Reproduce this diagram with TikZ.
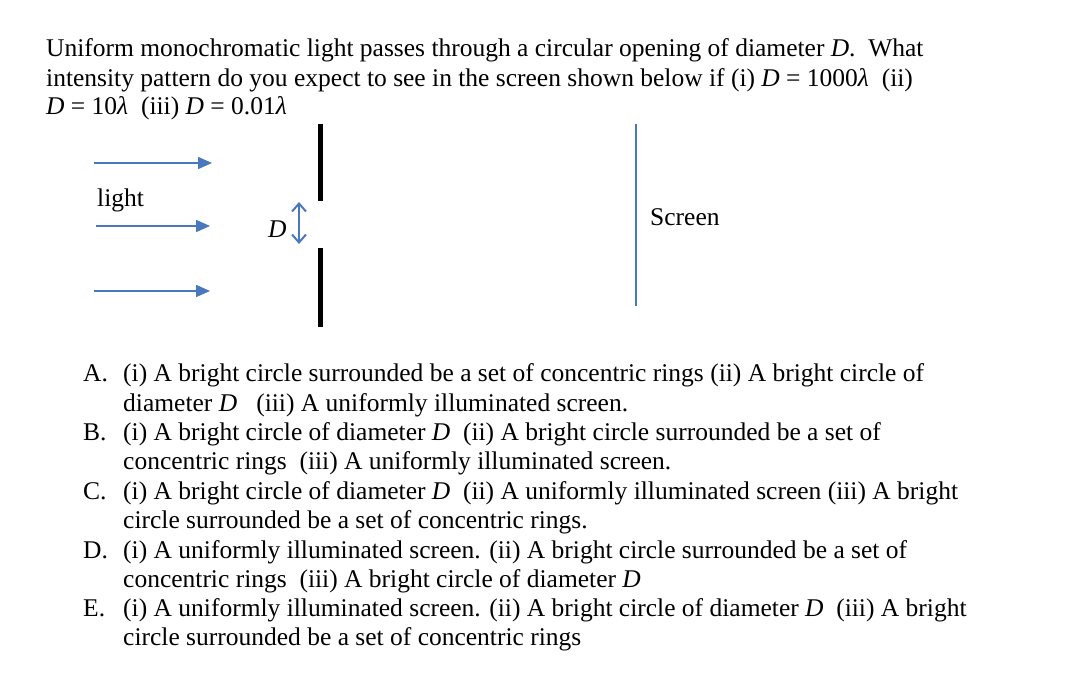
\documentclass[tikz,border=0pt]{standalone}
\usepackage{fontspec}
\setmainfont{Liberation Serif}
\usetikzlibrary{arrows.meta}
\begin{document}
\begin{tikzpicture}[x=1pt,y=-1pt,
  txt/.style={anchor=base west,inner sep=0pt,font=\fontsize{25.5}{30}\selectfont},
  ray/.style={draw={rgb,255:red,74;green,120;blue,190},line width=1.5pt,-{Triangle[length=14pt,width=12pt]}},
  wall/.style={line width=5pt,draw=black},
  scr/.style={line width=1.6pt,draw={rgb,255:red,74;green,120;blue,190}}]
\useasboundingbox (0,0) rectangle (1066,692);
\newcommand{\dd}{\textit{D}}
\newcommand{\lam}{\textit{λ}}
\node[txt] (q1) at (46,57) {Uniform monochromatic light passes through a circular opening of diameter \dd. \ What};
\node[txt] (q2) at (46,87) {intensity pattern do you expect to see in the screen shown below if (i) \dd{} = 1000\lam{} \ (ii)};
\node[txt] (q3) at (46,115) {\dd{} = 10\lam{} \ (iii) \dd{} = 0.01\lam};
\coordinate (a1s) at (94,163); \coordinate (a1e) at (212,163);
\coordinate (a2s) at (96,226); \coordinate (a2e) at (210,226);
\coordinate (a3s) at (94,291); \coordinate (a3e) at (210,291);
\draw[ray] (a1s) -- (a1e);
\draw[ray] (a2s) -- (a2e);
\draw[ray] (a3s) -- (a3e);
\coordinate (w1a) at (320,124); \coordinate (w1b) at (320,201);
\coordinate (w2a) at (320,248); \coordinate (w2b) at (320,327);
\draw[wall] (w1a) -- (w1b);
\draw[wall] (w2a) -- (w2b);
\coordinate (da) at (299,202); \coordinate (db) at (299,244);
\draw[scr,line width=2pt,{Straight Barb[length=8pt,width=14pt]}-{Straight Barb[length=8pt,width=14pt]}] (da) -- (db);
\node[txt] (dl) at (268,238) {\dd};
\coordinate (sa) at (636,124); \coordinate (sb) at (636,306);
\draw[scr] (sa) -- (sb);
\node[txt] (sl) at (650,226) {Screen};
\node[txt] (ll) at (97,207) {light};
\foreach \n/\l/\y in {A/A./382,B/B./441,C/C./499,D/D./558,E/E./616}{\node[txt] (o\n) at (83,\y) {\l};}
\node[txt] (a1) at (123,382) {(i) A bright circle surrounded be a set of concentric rings (ii) A bright circle of};
\node[txt] (a2) at (123,412) {diameter \dd{} \ \ (iii) A uniformly illuminated screen.};
\node[txt] (b1) at (123,441) {(i) A bright circle of diameter \dd{} \ (ii) A bright circle surrounded be a set of};
\node[txt] (b2) at (123,470) {concentric rings \ (iii) A uniformly illuminated screen.};
\node[txt] (c1) at (123,499) {(i) A bright circle of diameter \dd{} \ (ii) A uniformly illuminated screen (iii) A bright};
\node[txt] (c2) at (123,528) {circle surrounded be a set of concentric rings.};
\node[txt] (d1) at (123,558) {(i) A uniformly illuminated screen. (ii) A bright circle surrounded be a set of};
\node[txt] (d2) at (123,587) {concentric rings \ (iii) A bright circle of diameter \dd};
\node[txt] (e1) at (123,616) {(i) A uniformly illuminated screen. (ii) A bright circle of diameter \dd{} \ (iii) A bright};
\node[txt] (e2) at (123,645) {circle surrounded be a set of concentric rings};
\end{tikzpicture}
\end{document}
